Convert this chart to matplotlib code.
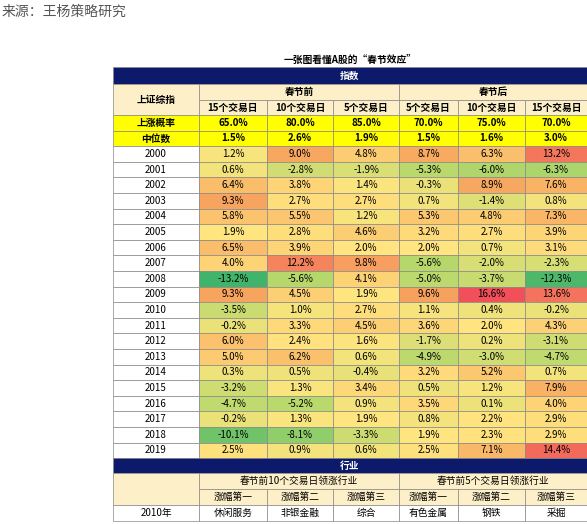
import matplotlib
matplotlib.use("Agg")
import matplotlib.pyplot as plt
from matplotlib.patches import Rectangle
from matplotlib.colors import LinearSegmentedColormap, TwoSlopeNorm

plt.rcParams['font.family'] = ['Noto Sans CJK SC', 'DejaVu Sans']

years = list(range(2000, 2020))
periods = ["15个交易日", "10个交易日", "5个交易日", "5个交易日", "10个交易日", "15个交易日"]
up_prob = ["65.0%", "80.0%", "85.0%", "70.0%", "75.0%", "70.0%"]
median = ["1.5%", "2.6%", "1.9%", "1.5%", "1.6%", "3.0%"]
returns = [
    [1.2, 9.0, 4.8, 8.7, 6.3, 13.2],
    [0.6, -2.8, -1.9, -5.3, -6.0, -6.3],
    [6.4, 3.8, 1.4, -0.3, 8.9, 7.6],
    [9.3, 2.7, 2.7, 0.7, -1.4, 0.8],
    [5.8, 5.5, 1.2, 5.3, 4.8, 7.3],
    [1.9, 2.8, 4.6, 3.2, 2.7, 3.9],
    [6.5, 3.9, 2.0, 2.0, 0.7, 3.1],
    [4.0, 12.2, 9.8, -5.6, -2.0, -2.3],
    [-13.2, -5.6, 4.1, -5.0, -3.7, -12.3],
    [9.3, 4.5, 1.9, 9.6, 16.6, 13.6],
    [-3.5, 1.0, 2.7, 1.1, 0.4, -0.2],
    [-0.2, 3.3, 4.5, 3.6, 2.0, 4.3],
    [6.0, 2.4, 1.6, -1.7, 0.2, -3.1],
    [5.0, 6.2, 0.6, -4.9, -3.0, -4.7],
    [0.3, 0.5, -0.4, 3.2, 5.2, 0.7],
    [-3.2, 1.3, 3.4, 0.5, 1.2, 7.9],
    [-4.7, -5.2, 0.9, 3.5, 0.1, 4.0],
    [-0.2, 1.3, 1.9, 0.8, 2.2, 2.9],
    [-10.1, -8.1, -3.3, 1.9, 2.3, 2.9],
    [2.5, 0.9, 0.6, 2.5, 7.1, 14.4],
]
rank_labels = ["涨幅第一", "涨幅第二", "涨幅第三", "涨幅第一", "涨幅第二", "涨幅第三"]
ind_2010 = ["休闲服务", "非银金融", "综合", "有色金属", "钢铁", "采掘"]

W, H = 587, 524
fig = plt.figure(figsize=(W / 100, H / 100), dpi=100)
ax = fig.add_axes([0, 0, 1, 1])
ax.set_xlim(0, W)
ax.set_ylim(H, 0)
ax.axis("off")

navy = "#0d1a6b"
cream = "#fdf0c8"
yellow = "#ffff00"
cmap = LinearSegmentedColormap.from_list("rg", ["#3cb36a", "#b5d86b", "#ffe57f", "#f7a55e", "#f1505a"])
norm = TwoSlopeNorm(vmin=-13.5, vcenter=2.0, vmax=16.6)

x0 = 113
edges = [x0, 199, 267, 333, 399, 458, 525, 587]
rh = 15.6
fs = 7


def cell(x1, x2, y1, y2, fc, text="", color="black", bold=False, size=fs, edge="#888888"):
    ax.add_patch(Rectangle((x1, y1), x2 - x1, y2 - y1, facecolor=fc, edgecolor=edge, lw=0.5))
    if text:
        ax.text((x1 + x2) / 2, (y1 + y2) / 2, text, ha="center", va="center", fontsize=size,
                color=color, fontweight="bold" if bold else "normal")


ax.text(2, 12, "来源：王杨策略研究", fontsize=10, color="#555555", va="center")
ax.text((x0 + W) / 2, 60, "一张图看懂A股的“春节效应”", fontsize=7, fontweight="bold", ha="center", va="center")

# header
cell(x0, W, 67, 84, navy, "指数", color="white", bold=True)
cell(x0, edges[1], 84, 115, cream, "上证综指", bold=True)
cell(edges[1], edges[4], 84, 100, cream, "春节前", bold=True)
cell(edges[4], W, 84, 100, cream, "春节后", bold=True)
for j, p in enumerate(periods):
    cell(edges[j + 1], edges[j + 2], 100, 115, cream, p, bold=True)

y = 115
for label, row in [("上涨概率", up_prob), ("中位数", median)]:
    cell(x0, edges[1], y, y + rh, yellow, label, bold=True)
    for j, v in enumerate(row):
        cell(edges[j + 1], edges[j + 2], y, y + rh, yellow, v, bold=True)
    y += rh

for yr, row in zip(years, returns):
    cell(x0, edges[1], y, y + rh, "white", str(yr))
    for j, v in enumerate(row):
        cell(edges[j + 1], edges[j + 2], y, y + rh, cmap(norm(v)), f"{v:.1f}%")
    y += rh

# industry part
cell(x0, W, y, y + 15, navy, "行业", color="white", bold=True)
y += 15
cell(x0, edges[1], y, y + 32, cream)
cell(edges[1], edges[4], y, y + 16, cream, "春节前10个交易日领涨行业")
cell(edges[4], W, y, y + 16, cream, "春节前5个交易日领涨行业")
y += 16
for j, r in enumerate(rank_labels):
    cell(edges[j + 1], edges[j + 2], y, y + 16, cream, r)
y += 16
cell(x0, edges[1], y, y + 16, "white", "2010年")
for j, r in enumerate(ind_2010):
    cell(edges[j + 1], edges[j + 2], y, y + 16, "white", r)

fig.savefig("out.png", dpi=100)
